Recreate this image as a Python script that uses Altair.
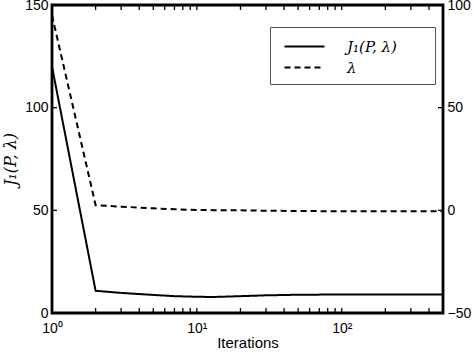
import altair as alt
import pandas as pd

iters = [1, 2, 3, 5, 7, 10, 13, 20, 30, 50, 100, 200, 500]
j_vals = [120, 10.8, 9.8, 8.8, 8.2, 7.9, 7.8, 8.2, 8.6, 8.9, 9.0, 9.0, 9.0]
lam_vals = [95, 2.5, 1.8, 1.0, 0.5, 0.2, 0.1, 0.0, -0.2, -0.3, -0.5, -0.5, -0.5]
x_ticks = [1, 2, 3, 4, 5, 6, 7, 8, 9, 10, 20, 30, 40, 50, 60, 70, 80, 90, 100, 200, 300, 400, 500]
j_ticks = [50, 100]
lam_ticks = [0, 50]
series_names = ["J\u2081(P, \u03bb)", "\u03bb"]

W, H, TK = 391, 308, 5

df = pd.DataFrame({
    "it": iters * 2,
    "J": j_vals + [None] * len(iters),
    "lam": [None] * len(iters) + lam_vals,
    "series": [series_names[0]] * len(iters) + [series_names[1]] * len(iters),
})
xt = pd.DataFrame({"it": x_ticks})
jt = pd.DataFrame({"J": j_ticks})
lt = pd.DataFrame({"lam": lam_ticks})

FONT = "Liberation Sans"
label_expr = "datum.value == 1 ? '10\u2070' : datum.value == 10 ? '10\u00b9' : datum.value == 100 ? '10\u00b2' : ''"

xscale = alt.Scale(type="log", domain=[1, 500], nice=False)
jscale = alt.Scale(domain=[0, 150], nice=False)
lscale = alt.Scale(domain=[-50, 100], nice=False)

dash = alt.StrokeDash(
    "series:N",
    scale=alt.Scale(domain=series_names, range=[[1, 0], [6, 4]]),
    legend=alt.Legend(
        title="\u2014\u2014", titleOrient="right", titleFontSize=15,
        titleColor="transparent", titlePadding=0,
        orient="none", legendX=218, legendY=22,
        symbolType="M-2,0L2,0", symbolSize=400, symbolStrokeWidth=2.2,
        symbolStrokeColor="black", symbolFillColor="transparent",
        symbolOffset=15,
        labelFont="DejaVu Serif", labelFontStyle="italic", labelFontSize=15,
        labelColor="black",
        strokeColor="#555", fillColor="white", padding=8,
        rowPadding=1, labelOffset=31,
    ),
)

x_axis = alt.Axis(
    orient="bottom", values=[1, 10, 100], labelExpr=label_expr, title="Iterations",
    domain=False, grid=False, ticks=False, labelPadding=8, labelFont=FONT,
    labelFontSize=14, labelColor="black", titleFont=FONT, titleFontSize=15,
    titleFontWeight="normal", titleColor="black", titlePadding=0,
    labelFlush=False,
)
j_axis = alt.Axis(
    orient="left", values=[0, 50, 100, 150], title="J\u2081(P, \u03bb)",
    domain=False, grid=False, ticks=False, labelPadding=4,
    labelFont=FONT, labelFontSize=14, labelColor="black",
    titleFont="DejaVu Serif", titleFontStyle="italic", titleFontSize=16,
    titleFontWeight="normal", titleColor="black", titlePadding=6,
)
l_axis = alt.Axis(
    orient="right", values=[-50, 0, 50, 100], title="\u03bb",
    domain=False, grid=False, ticks=False, labelPadding=4,
    labelFont=FONT, labelFontSize=14, labelColor="black",
    titleFont="DejaVu Serif", titleFontSize=15, titleFontWeight="normal",
    titleColor="black", titlePadding=8, titleAngle=90,
)

j_line = alt.Chart(df).transform_filter("datum.J != null").mark_line(
    color="black", strokeWidth=2
).encode(
    x=alt.X("it:Q", scale=xscale, axis=x_axis),
    y=alt.Y("J:Q", scale=jscale, axis=j_axis),
    strokeDash=dash,
)
j_tick_marks = alt.Chart(jt).mark_rule(color="black", strokeWidth=1.3).encode(
    y=alt.Y("J:Q", scale=jscale, axis=j_axis),
    x=alt.value(0), x2=alt.value(TK),
)
x_bot_ticks = alt.Chart(xt).mark_rule(color="black", strokeWidth=1.3).encode(
    x=alt.X("it:Q", scale=xscale, axis=x_axis),
    y=alt.value(H - TK), y2=alt.value(H),
)
x_top_ticks = alt.Chart(xt).mark_rule(color="black", strokeWidth=1.3).encode(
    x=alt.X("it:Q", scale=xscale, axis=x_axis),
    y=alt.value(0), y2=alt.value(TK),
)

lam_line = alt.Chart(df).transform_filter("datum.lam != null").mark_line(
    color="black", strokeWidth=2
).encode(
    x=alt.X("it:Q", scale=xscale, axis=x_axis),
    y=alt.Y("lam:Q", scale=lscale, axis=l_axis),
    strokeDash=dash,
)
lam_tick_marks = alt.Chart(lt).mark_rule(color="black", strokeWidth=1.3).encode(
    y=alt.Y("lam:Q", scale=lscale, axis=l_axis),
    x=alt.value(W - TK), x2=alt.value(W),
)

left_group = alt.layer(j_line, j_tick_marks, x_bot_ticks, x_top_ticks)
right_group = alt.layer(lam_line, lam_tick_marks)

chart = alt.layer(left_group, right_group).resolve_scale(
    y="independent"
).properties(
    width=W, height=H, background="white",
    autosize=alt.AutoSizeParams(type="none"),
    padding={"left": 52, "top": 5, "right": 31, "bottom": 40},
).configure_view(stroke="black", strokeWidth=2.8)

chart.save("out.html", embed_options={"renderer": "svg", "actions": False})
